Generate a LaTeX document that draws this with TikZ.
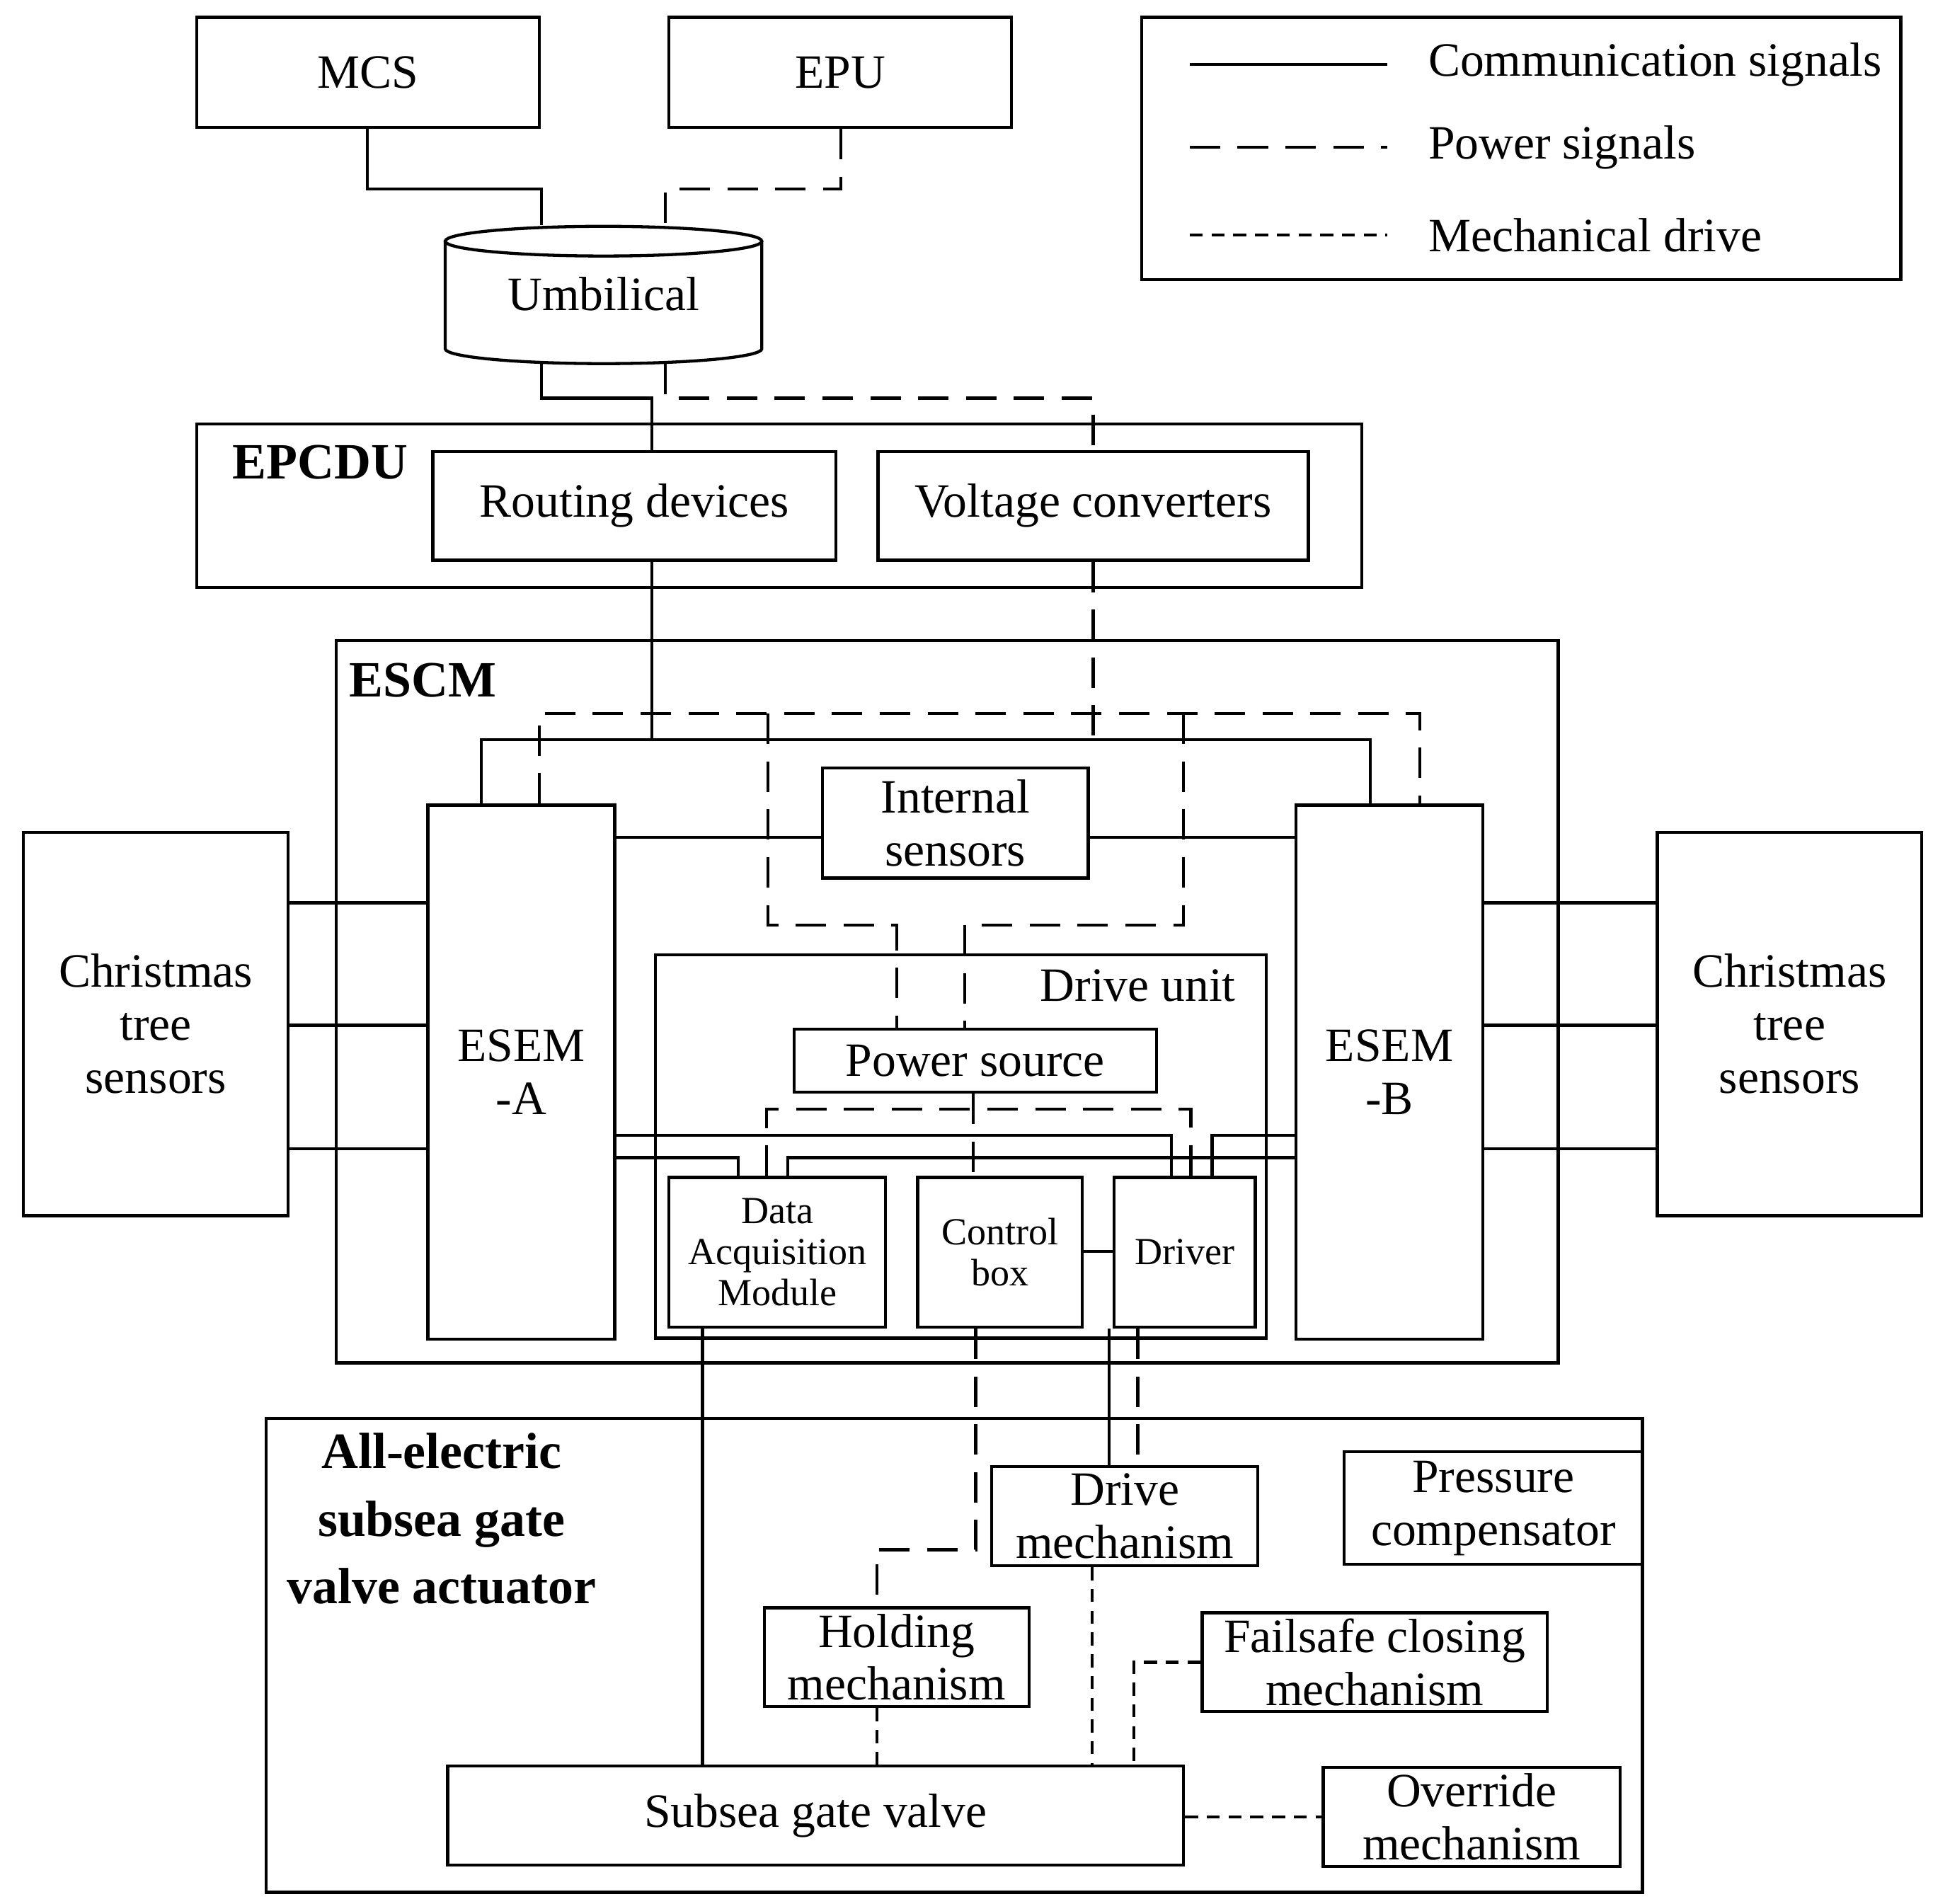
\documentclass[tikz,border=0pt]{standalone}
\usepackage{fontspec}
\setmainfont{Liberation Serif}
\begin{document}
\begin{tikzpicture}[x=0.01cm,y=-0.01cm,line width=0.7pt,
 box/.style={draw,inner sep=0pt,align=center,font=\fontsize{11}{12.2}\selectfont},
 sbox/.style={box,font=\fontsize{8.8}{9.4}\selectfont},
 txt/.style={font=\fontsize{11}{12.2}\selectfont},
 comm/.style={line width=0.7pt},
 pow/.style={dash pattern=on 7pt off 4pt},
 mech/.style={dash pattern=on 3pt off 2pt},
 lbl/.style={font=\fontsize{11.7}{12.6}\selectfont\bfseries,align=center}]
\useasboundingbox (0,0) rectangle (1563,1539);
\newcommand\bx[7][box]{\node[#1,minimum width={(#5-#3)*0.01cm},minimum height={(#6-#4)*0.01cm}] (#2) at ({(#3+#5)/2},{(#4+#6)/2}) {#7};}
% top
\bx{mcs}{159}{14}{436}{103}{MCS}
\bx{epu}{541}{14}{818}{103}{EPU}
\bx{leg}{923}{14}{1537}{226}{}
\coordinate (l1a) at (962,52); \coordinate (l1b) at (1122,52);
\coordinate (l2a) at (962,119); \coordinate (l2b) at (1122,119);
\coordinate (l3a) at (962,190); \coordinate (l3b) at (1122,190);
\draw[comm] (l1a) -- (l1b); \draw[pow] (l2a) -- (l2b); \draw[mech] (l3a) -- (l3b);
\node[anchor=west,txt] (t1) at (1142,52) {Communication signals};
\node[anchor=west,txt] (t2) at (1142,119) {Power signals};
\node[anchor=west,txt] (t3) at (1142,190) {Mechanical drive};
% umbilical
\node[minimum width=2.56cm,minimum height=1.1cm,inner sep=0pt,txt] (umb) at (488,238) {\raisebox{-0.8ex}{Umbilical}};
\draw (488,195) ellipse[x radius=128,y radius=12];
\draw (360,195) -- (360,282) arc[start angle=180,end angle=0,x radius=128,y radius=12] -- (616,195);
\draw[comm] (mcs.south -| 297,0) |- (438,153) -- (umb.north -| 438,0);
\draw[pow] (epu.south -| 680,0) |- (538,153) -- (umb.north -| 538,0);
% EPCDU
\bx{epcdu}{159}{343}{1101}{475}{}
\node[lbl] (epcdul) at (259,374) {EPCDU};
\bx{rd}{350}{365}{676}{453}{Routing devices}
\bx{vc}{710}{365}{1058}{453}{Voltage converters}
\draw[comm] (umb.south -| 438,0) |- (527,322) -- (rd.north -| 527,0);
\draw[pow] (umb.south -| 538,0) |- (884,322) -- (vc.north -| 884,0);
% ESCM
\bx{escm}{272}{518}{1260}{1102}{}
\node[lbl] (escml) at (342,550) {ESCM};
\bx{ea}{346}{651}{497}{1083}{ESEM\\-A}
\bx{eb}{1048}{651}{1199}{1083}{ESEM\\-B}
\bx{is}{665}{621}{880}{710}{Internal\\sensors}
\draw[comm] (rd.south -| 527,0) -- (527,598);
\draw[pow] (vc.south -| 884,0) -- (884,598);
\draw[comm] (ea.north -| 389,0) |- (1108,598) -- (eb.north -| 1108,0);
\draw[pow] (ea.north -| 436,0) |- (1148,577) -- (eb.north -| 1148,0);
\draw[comm] (ea.east |- 0,677) -- (is.west |- 0,677);
\draw[comm] (is.east |- 0,677) -- (eb.west |- 0,677);
% Christmas trees
\bx{cl}{19}{673}{233}{983}{Christmas\\tree\\sensors}
\bx{cr}{1340}{673}{1554}{983}{Christmas\\tree\\sensors}
\foreach \yy in {730,829,929}{
 \draw[comm] (cl.east |- 0,\yy) -- (ea.west |- 0,\yy);
 \draw[comm] (eb.east |- 0,\yy) -- (cr.west |- 0,\yy);}
% drive unit
\bx{du}{530}{772}{1024}{1082}{}
\node[anchor=east,txt] (dul) at (1012,797) {Drive unit};
\bx{ps}{642}{832}{935}{883}{Power source}
\bx[sbox]{daq}{541}{952}{716}{1073}{Data\\Acquisition\\Module}
\bx[sbox]{cb}{742}{952}{875}{1073}{Control\\box}
\bx[sbox]{drv}{901}{952}{1015}{1073}{Driver}
\draw[pow] (621,577) |- (725,748) -- (ps.north -| 725,0);
\draw[pow] (957,577) |- (780,748) -- (ps.north -| 780,0);
\draw[pow] (ps.south -| 787,0) -- (cb.north -| 787,0);
\draw[pow] (daq.north -| 620,0) |- (963,897) -- (drv.north -| 963,0);
\draw[comm] (ea.east |- 0,918) -| (drv.north -| 947,0);
\draw[comm] (drv.north -| 980,0) |- (eb.west |- 0,918);
\draw[comm] (ea.east |- 0,936) -| (daq.north -| 597,0);
\draw[comm] (daq.north -| 637,0) |- (eb.west |- 0,936);
\draw[comm] (cb.east |- 0,1012) -- (drv.west |- 0,1012);
% actuator
\bx{act}{215}{1147}{1328}{1530}{}
\node[lbl,font=\fontsize{11.7}{15.5}\selectfont\bfseries] (actl) at (357,1228) {All-electric\\subsea gate\\valve actuator};
\bx{dm}{802}{1186}{1017}{1266}{Drive\\mechanism}
\bx{pc}{1087}{1174}{1328}{1265}{Pressure\\compensator}
\bx{hm}{618}{1300}{832}{1380}{Holding\\mechanism}
\bx{fs}{972}{1304}{1251}{1384}{Failsafe closing\\mechanism}
\bx{om}{1070}{1429}{1310}{1509}{Override\\mechanism}
\bx{sv}{362}{1428}{957}{1508}{Subsea gate valve}
\draw[comm] (daq.south -| 568,0) -- (sv.north -| 568,0);
\draw[pow] (cb.south -| 789,0) |- (709,1253) -- (hm.north -| 709,0);
\draw[comm] (drv.south -| 897,0) -- (dm.north -| 897,0);
\draw[pow] (drv.south -| 920,0) -- (dm.north -| 920,0);
\draw[mech] (hm.south -| 709,0) -- (sv.north -| 709,0);
\draw[mech] (dm.south -| 883,0) -- (sv.north -| 883,0);
\draw[mech] (fs.west) -| (sv.north -| 917,0);
\draw[mech] (sv.east |- om.west) -- (om.west);
\end{tikzpicture}
\end{document}
